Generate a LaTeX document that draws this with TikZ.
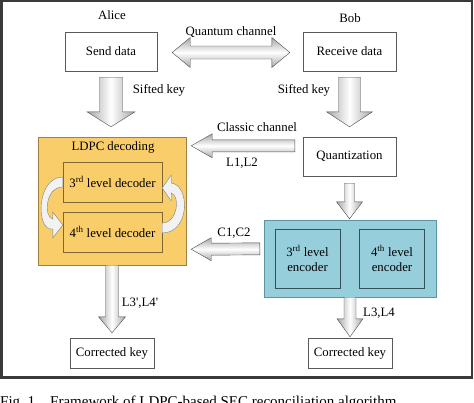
\documentclass[tikz,border=0pt]{standalone}
\usepackage{fontspec}
\setmainfont{Liberation Serif}
\usetikzlibrary{calc,positioning}
\definecolor{decyellow}{RGB}{249,206,106}
\definecolor{decedge}{RGB}{160,128,62}
\definecolor{encblue}{RGB}{151,206,220}
\definecolor{encedge}{RGB}{92,148,162}
\definecolor{framegray}{RGB}{58,58,58}
\tikzset{
  plainbox/.style={
    draw = black!65,
    fill = white,
    inner sep = 0pt,
    minimum width = 92pt,
    minimum height = 39pt
  },
  decbox/.style={
    draw = decedge,
    fill = decyellow,
    minimum width = 148pt,
    minimum height = 128pt
  },
  declevel/.style={
    draw = decedge!80!black,
    inner sep = 0pt,
    minimum width = 99pt,
    minimum height = 40pt
  },
  encbox/.style={
    draw = encedge,
    fill = encblue,
    minimum width = 172pt,
    minimum height = 77pt
  },
  enclevel/.style={
    draw = encedge!55!black,
    inner sep = 0pt,
    align = center,
    minimum width = 65pt,
    minimum height = 59pt
  },
}
\tikzset{
  blockv/.style={
    draw = black!70,
    left color = black!35,
    right color = black!35,
    middle color = white
  },
  blockh/.style={
    draw = black!70,
    top color = black!35,
    bottom color = black!35,
    middle color = white
  },
  curvy/.style={
    draw = black!50,
    fill = black!5
  },
  lbl/.style={
    inner sep = 0pt
  },
  frame/.style={
    draw = framegray,
    line width = 2.5pt
  }
}
% block arrow pointing down: tail, tip, shaft half, head half, head length
\newcommand\blockdown[5]{%
  \path[blockv] ($(#1)+(-#3,0)$) -- ($(#2)+(-#3,-#5)$) -- ($(#2)+(-#4,-#5)$) -- (#2)
    -- ($(#2)+(#4,-#5)$) -- ($(#2)+(#3,-#5)$) -- ($(#1)+(#3,0)$) -- cycle;}
% block arrow pointing left: tail, tip, shaft half, head half, head length
\newcommand\blockleft[5]{%
  \path[blockh] ($(#1)+(0,-#3)$) -- ($(#2)+(#5,-#3)$) -- ($(#2)+(#5,-#4)$) -- (#2)
    -- ($(#2)+(#5,#4)$) -- ($(#2)+(#5,#3)$) -- ($(#1)+(0,#3)$) -- cycle;}
% block arrow with two heads: left tip, right tip, shaft half, head half, head length
\newcommand\blockboth[5]{%
  \path[blockh] (#1) -- ($(#1)+(#5,-#4)$) -- ($(#1)+(#5,-#3)$) -- ($(#2)+(-#5,-#3)$)
    -- ($(#2)+(-#5,-#4)$) -- (#2) -- ($(#2)+(-#5,#4)$) -- ($(#2)+(-#5,#3)$)
    -- ($(#1)+(#5,#3)$) -- ($(#1)+(#5,#4)$) -- cycle;}

\begin{document}
\begin{tikzpicture}[x=1pt, y=-1pt, font=\fontsize{12.8}{15}\selectfont]
\useasboundingbox (0,0) rectangle (474,402);
\draw[frame] (1.5,1.2) rectangle (471.8,377.6);
% Alice and Bob
\node[lbl] (alice) at (112,15) {Alice};
\node[lbl] (bob) at (350,18) {Bob};
\node[plainbox] (send) at (111,51.5) {Send data};
\node[plainbox, minimum width=93pt] (recv) at (349.5,51.5) {Receive data};
\node[plainbox, minimum width=93pt] (quant) at (349.5,156.5) {Quantization};
% decoding side
\node[decbox] (ldpc) at (112,201) {};
\node[lbl] (ldpct) at (113,147) {LDPC decoding};
\node[declevel] (dec3) at (112.5,182) {3\textsuperscript{rd} level decoder};
\node[declevel] (dec4) at (112.5,232) {4\textsuperscript{th} level decoder};
% encoding side
\node[encbox] (enc) at (350,258.5) {};
\node[enclevel] (enc3) at (307.5,258.5) {3\textsuperscript{rd} level\\encoder};
\node[enclevel] (enc4) at (392,258.5) {4\textsuperscript{th} level\\encoder};
\node[plainbox, minimum width=84pt, minimum height=30pt] (ckA) at (112,353) {Corrected key};
\node[plainbox, minimum width=84pt, minimum height=30pt] (ckB) at (350,353) {Corrected key};
% arrow ends
\coordinate (qcA) at ($(send.east)+(15,1)$);
\coordinate (qcB) at ($(recv.west)+(-13,1)$);
\coordinate (skAa) at ($(send.south)+(0,6)$);
\coordinate (skAb) at ($(send.south |- ldpc.north)+(0,-10)$);
\coordinate (skBa) at ($(recv.south)+(0,6)$);
\coordinate (skBb) at ($(recv.south |- quant.north)+(0,-10)$);
\coordinate (qza) at ($(quant.south)+(0,7)$);
\coordinate (qzb) at ($(quant.south |- enc.north)+(0,-1)$);
\coordinate (cca) at ($(quant.north west)+(-8,9)$);
\coordinate (ccb) at ($(ldpc.north east)+(5,9)$);
\coordinate (c12a) at ($(enc.north west)+(-4,29)$);
\coordinate (c12b) at ($(ldpc.south east)+(5,-16)$);
\coordinate (lAa) at (ckA.north |- ldpc.south);
\coordinate (lAb) at ($(ckA.north)+(0,-5)$);
\coordinate (lBa) at (ckB.north |- enc.south);
\coordinate (lBb) at ($(ckB.north)+(0,-1)$);
% block arrows
\blockboth{qcA}{qcB}{6.5}{15}{18}
\blockdown{skAa}{skAb}{11.5}{24}{15}
\blockdown{skBa}{skBb}{11}{23}{15}
\blockdown{qza}{qzb}{5}{13}{17}
\blockleft{cca}{ccb}{6}{12}{21}
\blockleft{c12a}{c12b}{6}{11.5}{20}
\blockdown{lAa}{lAb}{6.5}{13.5}{16}
\blockdown{lBa}{lBb}{6}{13}{18}
% loop between decoders
\path[curvy] ($(dec4.west)+(0,-7)$) -- ($(dec4.west)+(-10,-20)$) -- ($(dec4.west)+(-10,-13)$)
  .. controls ($(dec4.west)+(-19,-14)$) and ($(dec3.west)+(-18,5)$) .. ($(dec3.west)+(0,5)$)
  -- ($(dec3.west)+(0,-5)$)
  .. controls ($(dec3.west)+(-27,-5)$) and ($(dec4.west)+(-27,0)$) .. ($(dec4.west)+(-10,-3)$)
  -- ($(dec4.west)+(-10,6)$) -- cycle;
\path[curvy] ($(dec3.east)+(0,6)$) -- ($(dec3.east)+(9,-7)$) -- ($(dec3.east)+(9,1)$)
  .. controls ($(dec3.east)+(28,3)$) and ($(dec4.east)+(28,1)$) .. ($(dec4.east)+(0,1)$)
  -- ($(dec4.east)+(0,-9)$)
  .. controls ($(dec4.east)+(16,-9)$) and ($(dec3.east)+(18,13)$) .. ($(dec3.east)+(9,11)$)
  -- ($(dec3.east)+(9,19)$) -- cycle;
% labels
\node[lbl] (qcl) at (231,32) {Quantum channel};
\node[lbl] (skAl) at (159,90) {Sifted key};
\node[lbl] (skBl) at (304,90) {Sifted key};
\node[lbl] (ccl) at (257,127) {Classic channel};
\node[lbl] (l12) at (242,163) {L1,L2};
\node[lbl] (c12) at (234,233) {C1,C2};
\node[lbl] (lAl) at (140,303) {L3\textquotesingle,L4\textquotesingle};
\node[lbl] (lBl) at (379,313) {L3,L4};
% caption, cut by the page
\node[lbl, anchor=base west, font=\fontsize{15}{17}\selectfont] (cap) at (0,406)
  {Fig.~1\hspace{1em}Framework of LDPC-based SEC reconciliation algorithm};
\end{tikzpicture}
\end{document}
